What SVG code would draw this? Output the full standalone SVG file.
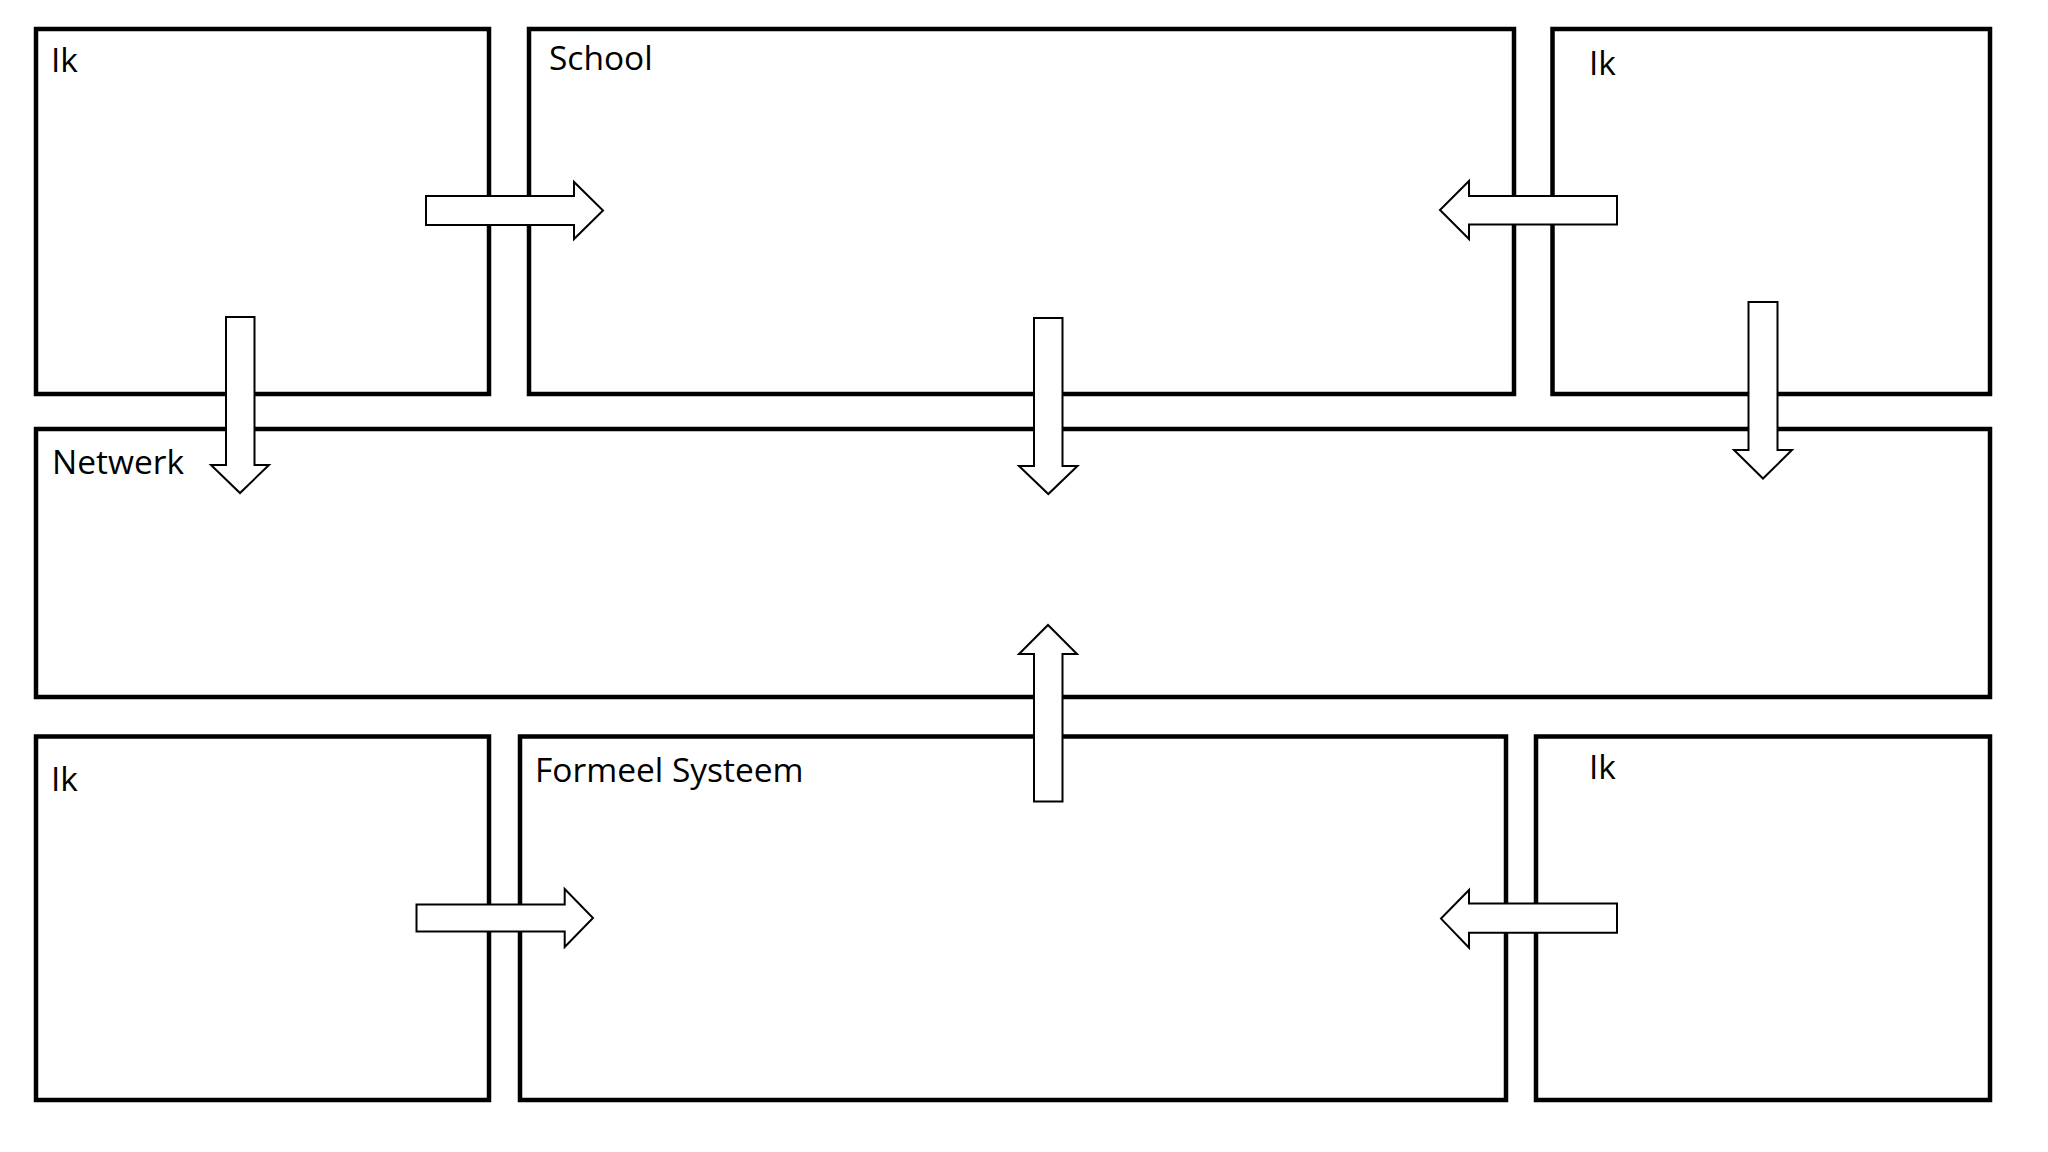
<svg xmlns="http://www.w3.org/2000/svg" width="2048" height="1152" viewBox="0 0 2048 1152">
<style>
.box{fill:#fff;stroke:#000;stroke-width:4.5}
.lbl{font-family:"Open Sans","Noto Sans","Liberation Sans",sans-serif;font-size:33.5px;fill:#000}
.arr{fill:#fff;stroke:#000;stroke-width:2;stroke-linejoin:miter}
</style>
<rect width="2048" height="1152" fill="#fff"/>
<g id="ik1"><rect class="box" x="36" y="29" width="453" height="365"/><text class="lbl" x="51" y="72">Ik</text></g>
<g id="school"><rect class="box" x="529" y="29" width="985" height="365"/><text class="lbl" x="549" y="70">School</text></g>
<g id="ik2"><rect class="box" x="1552.5" y="29" width="437.5" height="365"/><text class="lbl" x="1589" y="75">Ik</text></g>
<g id="netwerk"><rect class="box" x="36" y="429" width="1954" height="268"/><text class="lbl" x="52" y="474">Netwerk</text></g>
<g id="ik3"><rect class="box" x="36" y="736.5" width="453" height="363.5"/><text class="lbl" x="51" y="791">Ik</text></g>
<g id="formeel"><rect class="box" x="520" y="736.5" width="986" height="363.5"/><text class="lbl" x="535" y="782">Formeel Systeem</text></g>
<g id="ik4"><rect class="box" x="1536" y="736.5" width="454" height="363.5"/><text class="lbl" x="1589" y="779">Ik</text></g>
<g id="connectors">
<polygon class="arr" points="426,196 574,196 574,182 603,210.5 574,239 574,225 426,225"/>
<polygon class="arr" points="1617,196 1469,196 1469,181 1440,210 1469,239 1469,224.5 1617,224.5"/>
<polygon class="arr" points="226,317 254.5,317 254.5,465 269,465 240,493 211,465 226,465"/>
<polygon class="arr" points="1034,318 1062.5,318 1062.5,466 1077.5,466 1048.3,494 1019,466 1034,466"/>
<polygon class="arr" points="1748.5,302 1777.5,302 1777.5,450 1792,450 1763,478.5 1734,450 1748.5,450"/>
<polygon class="arr" points="1034,801.5 1062.5,801.5 1062.5,654 1077,654 1048,625 1019,654 1034,654"/>
<polygon class="arr" points="416.5,904.6 564.7,904.6 564.7,889 593,918 564.7,947 564.7,931.5 416.5,931.5"/>
<polygon class="arr" points="1617,903.6 1469,903.6 1469,890 1441,918.6 1469,947.7 1469,932.8 1617,932.8"/>
</g>
</svg>
